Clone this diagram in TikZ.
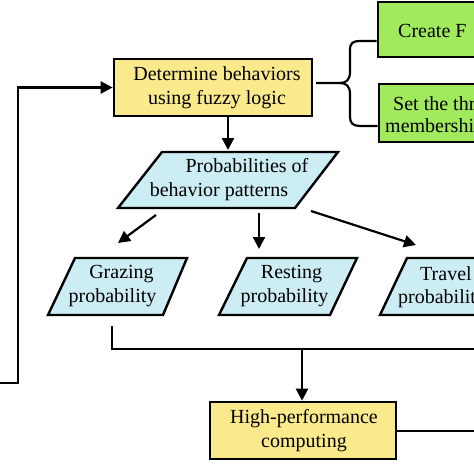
\documentclass[tikz,border=0pt]{standalone}
\usepackage{fontspec}
\setmainfont{Liberation Serif}
\usetikzlibrary{arrows.meta}
\definecolor{boxyellow}{RGB}{250,234,140}
\definecolor{paleblue}{RGB}{204,237,244}
\definecolor{boxgreen}{RGB}{160,234,92}
\tikzset{
  txt/.style={inner sep=0pt, align=center, font=\fontsize{20}{24}\selectfont},
  ltxt/.style={inner sep=0pt, anchor=base west, font=\fontsize{20}{24}\selectfont},
  ybox/.style={draw=black, line width=2.6pt, fill=boxyellow},
  gbox/.style={draw=black, line width=2.6pt, fill=boxgreen},
  para/.style={draw=black, line width=2.4pt, fill=paleblue, line join=miter},
  conn/.style={draw=black, line width=2.2pt},
  arr/.style={conn, -{Triangle[length=12pt,width=12pt]}},
}
\begin{document}
\begin{tikzpicture}[x=1pt,y=-1pt]
\useasboundingbox (0,0) rectangle (474,474);
\begin{scope}
\clip (0,0) rectangle (474,474);
% yellow boxes
\node[ybox, minimum width=198pt, minimum height=57pt, inner sep=0pt] (det) at (213,87.5) {};
\node[txt] (dettxt) at (217,88) {Determine behaviors\\using fuzzy logic};
\node[ybox, minimum width=186pt, minimum height=57pt, inner sep=0pt] (hpc) at (303,430.5) {};
\node[txt] (hpctxt) at (304,431) {High-performance\\computing};
% green boxes
\node[gbox, minimum width=140pt, minimum height=55pt, inner sep=0pt] (g1) at (448,29.5) {};
\node[ltxt] (g1txt) at (398,37) {Create F};
\node[gbox, minimum width=140pt, minimum height=58pt, inner sep=0pt] (g2) at (449,113) {};
\node[ltxt] (g2a) at (393,110) {Set the thr};
\node[ltxt] (g2b) at (385,132) {membershi};
% parallelograms
\draw[para] (118,208) -- (162,152) -- (338,152) -- (295,208) -- cycle;
\node[txt] (prob) at (233,180) {\hspace*{28pt}Probabilities of\\behavior patterns\hspace*{28pt}};
\draw[para] (48,315) -- (75,258) -- (187,258) -- (163,315) -- cycle;
\node[txt] (graz) at (117,286.5) {\hspace*{9pt}Grazing\\probability\hspace*{9pt}};
\draw[para] (219,315) -- (247,258) -- (357,258) -- (330,315) -- cycle;
\node[txt] (rest) at (288,286.5) {\hspace*{7pt}Resting\\probability\hspace*{7pt}};
\draw[para] (380,315) -- (407,258) -- (560,258) -- (540,315) -- cycle;
\node[ltxt] (trava) at (420,280) {Travel};
\node[ltxt] (travb) at (398,303) {probabilit};
% coordinates
\coordinate (dout) at (228,116);
\coordinate (pin) at (228,150);
\coordinate (p1) at (156,215);
\coordinate (g1in) at (118,243);
\coordinate (p2) at (259,213);
\coordinate (r1in) at (259,249);
\coordinate (p3) at (311,211);
\coordinate (t1in) at (416,245);
\coordinate (gout) at (112,326);
\coordinate (busend) at (480,349);
\coordinate (junc) at (302,349);
\coordinate (hpcout) at (480,431);
\coordinate (fbstart) at (-5,383);
\coordinate (fbcorner) at (18,383);
\coordinate (bstart) at (316,83);
\coordinate (btip) at (340,83);
% connectors
\draw[arr] (dout) -- (pin);
\draw[arr] (p1) -- (g1in);
\draw[arr] (p2) -- (r1in);
\draw[arr] (p3) -- (t1in);
\draw[conn] (gout) |- (busend);
\draw[arr] (junc) -- (junc |- hpc.north);
\draw[conn] (hpc.east |- hpcout) -- (hpcout);
\draw[arr] (fbstart) -- (fbcorner) |- (det.west);
% brace
\draw[conn, line join=round] (bstart) -- (btip)
  .. controls (346,83) and (350,80) .. (350,72) -- (350,50)
  .. controls (350,43) and (353,41) .. (360,41) -- (g1.west |- 0,41);
\draw[conn, line join=round] (btip)
  .. controls (346,83) and (350,86) .. (350,94) -- (350,117)
  .. controls (350,123) and (353,126) .. (360,126) -- (g2.west |- 0,126);
\end{scope}
\end{tikzpicture}
\end{document}
